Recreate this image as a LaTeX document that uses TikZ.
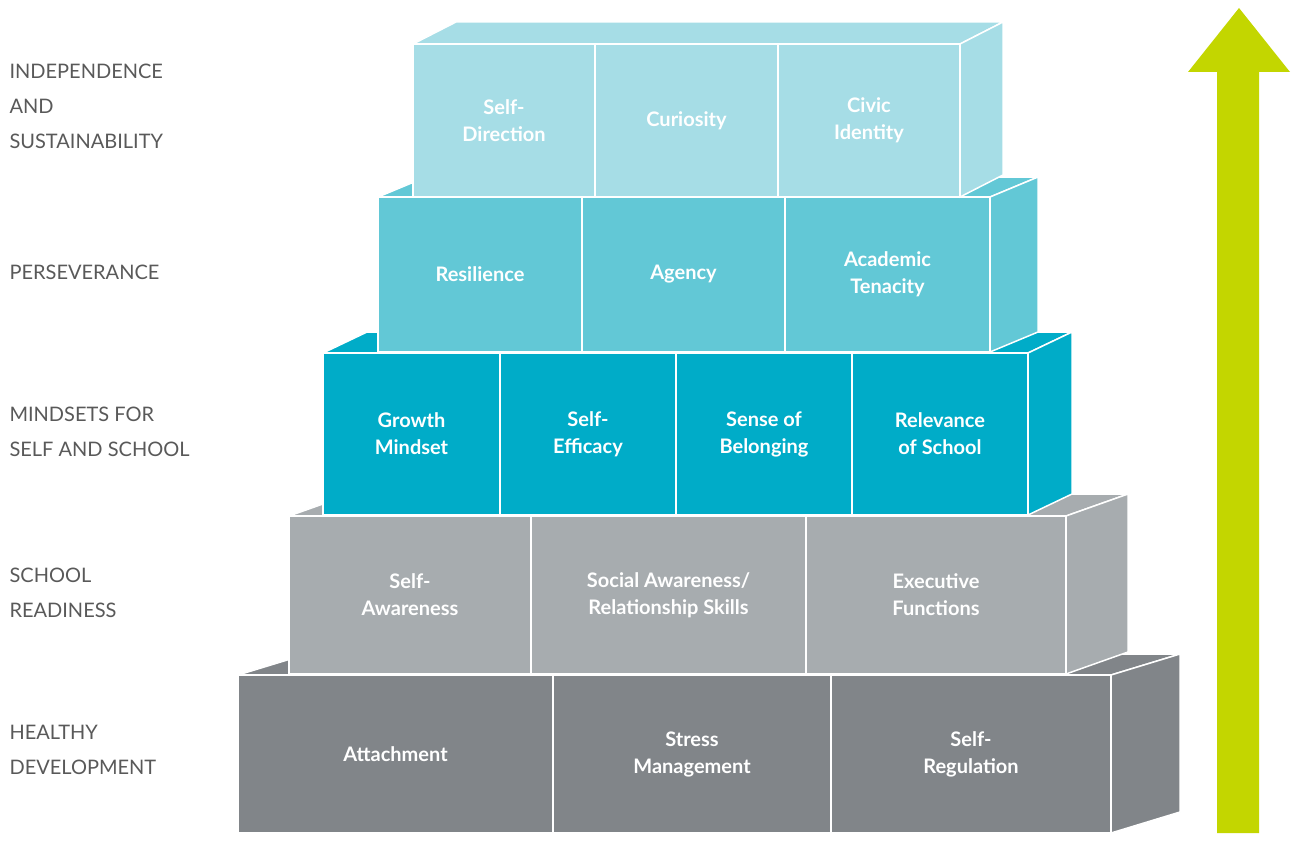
\documentclass[tikz,border=0pt]{standalone}
\usepackage{fontspec}
\setmainfont{Lato}
\begin{document}
\begin{tikzpicture}[x=1pt,y=-1pt,
  cell/.style={draw=white,line width=1.5pt,text=white,align=center,font=\fontsize{20}{27}\selectfont\bfseries,inner sep=0pt},
  face/.style={draw=white,line width=1.5pt},
  lab/.style={anchor=west,align=left,text=black!65,font=\fontsize{20}{35}\selectfont}]
\definecolor{c1}{HTML}{A6DDE6}
\definecolor{c2}{HTML}{62C8D6}
\definecolor{c3}{HTML}{00ACC8}
\definecolor{c4}{HTML}{A7ACAF}
\definecolor{c5}{HTML}{818589}
\definecolor{gr}{HTML}{C3D600}
\useasboundingbox (0,0) rectangle (1300,848);
% arrow
\fill[gr] (1217,833) -- (1217,72) -- (1188,72) -- (1239,8) -- (1290,72) -- (1259,72) -- (1259,833) -- cycle;
% row 5
\filldraw[face,fill=c5] (238,675) -- (307,654) -- (1180,654) -- (1111,675) -- cycle;
\filldraw[face,fill=c5] (1111,675) -- (1180,654) -- (1180,812) -- (1111,833) -- cycle;
\node[cell,fill=c5,minimum width=315,minimum height=158] (a1) at (395.5,754) {Attachment};
\node[cell,fill=c5,minimum width=278,minimum height=158] (a2) at (692,754) {Stress\\Management};
\node[cell,fill=c5,minimum width=280,minimum height=158] (a3) at (971,754) {Self-\\Regulation};
% row 4
\filldraw[face,fill=c4] (289,516) -- (351,494) -- (1128,494) -- (1066,516) -- cycle;
\filldraw[face,fill=c4] (1066,516) -- (1128,494) -- (1128,652) -- (1066,674) -- cycle;
\node[cell,fill=c4,minimum width=242,minimum height=158] (b1) at (410,595) {Self-\\Awareness};
\node[cell,fill=c4,minimum width=275,minimum height=158] (b2) at (668.5,595) {Social Awareness/\\Relationship Skills};
\node[cell,fill=c4,minimum width=260,minimum height=158] (b3) at (936,595) {Executive\\Functions};
% row 3
\filldraw[face,fill=c3] (323,353) -- (367,332) -- (1072,332) -- (1028,353) -- cycle;
\filldraw[face,fill=c3] (1028,353) -- (1072,332) -- (1072,494) -- (1028,515) -- cycle;
\node[cell,fill=c3,minimum width=177,minimum height=162] (d1) at (411.5,434) {Growth\\Mindset};
\node[cell,fill=c3,minimum width=176,minimum height=162] (d2) at (588,434) {Self-\\Efficacy};
\node[cell,fill=c3,minimum width=176,minimum height=162] (d3) at (764,434) {Sense of\\Belonging};
\node[cell,fill=c3,minimum width=176,minimum height=162] (d4) at (940,434) {Relevance\\of School};
% row 2
\filldraw[face,fill=c2] (378,197) -- (426,177) -- (1038,177) -- (990,197) -- cycle;
\filldraw[face,fill=c2] (990,197) -- (1038,177) -- (1038,332) -- (990,352) -- cycle;
\node[cell,fill=c2,minimum width=204,minimum height=155] (e1) at (480,274.5) {Resilience};
\node[cell,fill=c2,minimum width=203,minimum height=155] (e2) at (683.5,274.5) {Agency};
\node[cell,fill=c2,minimum width=205,minimum height=155] (e3) at (887.5,274.5) {Academic\\Tenacity};
% row 1
\filldraw[face,fill=c1] (413,44) -- (456,22) -- (1003,22) -- (960,44) -- cycle;
\filldraw[face,fill=c1] (960,44) -- (1003,22) -- (1003,175) -- (960,197) -- cycle;
\node[cell,fill=c1,minimum width=182,minimum height=153] (f1) at (504,120.5) {Self-\\Direction};
\node[cell,fill=c1,minimum width=183,minimum height=153] (f2) at (686.5,120.5) {Curiosity};
\node[cell,fill=c1,minimum width=182,minimum height=153] (f3) at (869,120.5) {Civic\\Identity};
% labels
\node[lab] (l1) at (6,106) {INDEPENDENCE\\AND\\SUSTAINABILITY};
\node[lab] (l2) at (6,272) {PERSEVERANCE};
\node[lab] (l3) at (6,432) {MINDSETS FOR\\SELF AND SCHOOL};
\node[lab] (l4) at (6,593) {SCHOOL\\READINESS};
\node[lab] (l5) at (6,750) {HEALTHY\\DEVELOPMENT};
\end{tikzpicture}
\end{document}
